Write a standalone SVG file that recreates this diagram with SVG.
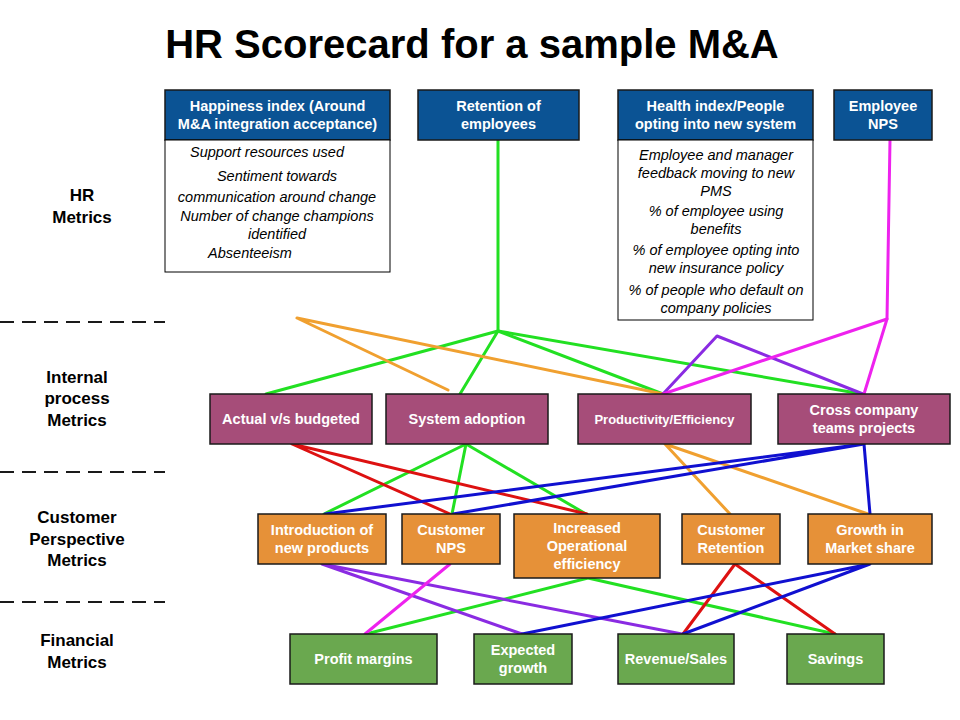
<svg xmlns="http://www.w3.org/2000/svg" width="960" height="720" viewBox="0 0 960 720">
<style>
.t{font-family:"Liberation Sans",Arial,sans-serif;font-weight:bold;fill:#fff;text-anchor:middle}
.s14{font-size:14.5px}
.s13{font-size:13px}
.side{font-family:"Liberation Sans",Arial,sans-serif;font-weight:bold;font-size:17px;fill:#000;text-anchor:middle}
.note{font-family:"Liberation Sans",Arial,sans-serif;font-style:italic;font-size:14.5px;fill:#000;text-anchor:middle}
.hr{fill:#0b5394;stroke:#1a1a1a;stroke-width:1.5}
.ip{fill:#a64d79;stroke:#1a1a1a;stroke-width:1.5}
.cp{fill:#e69138;stroke:#1a1a1a;stroke-width:1.5}
.fn{fill:#6aa84f;stroke:#1a1a1a;stroke-width:1.5}
.nb{fill:#fff;stroke:#000;stroke-width:1}
.dash{stroke:#1a1a1a;stroke-width:2;stroke-dasharray:14 8}
.c{fill:none;stroke-width:3;stroke-linejoin:round;stroke-linecap:round}
.g{stroke:#22e022}.o{stroke:#f0a030}.p{stroke:#8a2be2}.m{stroke:#ee22ee}.r{stroke:#dd1111}.b{stroke:#1010d0}
</style>
<rect width="960" height="720" fill="#fff"/>
<text x="472" y="58" font-family="Liberation Sans,Arial,sans-serif" font-weight="bold" font-size="40" text-anchor="middle" fill="#000">HR Scorecard for a sample M&amp;A</text>

<g id="section-dividers">
<line class="dash" x1="0" y1="322" x2="165" y2="322"/>
<line class="dash" x1="0" y1="472" x2="165" y2="472"/>
<line class="dash" x1="0" y1="602" x2="165" y2="602"/>
</g>
<g id="section-labels">
<text class="side" x="82" y="201">HR</text>
<text class="side" x="82" y="223">Metrics</text>
<text class="side" x="77" y="383">Internal</text>
<text class="side" x="77" y="404">process</text>
<text class="side" x="77" y="426">Metrics</text>
<text class="side" x="77" y="523">Customer</text>
<text class="side" x="77" y="545">Perspective</text>
<text class="side" x="77" y="566">Metrics</text>
<text class="side" x="77" y="646">Financial</text>
<text class="side" x="77" y="668">Metrics</text>
</g>

<g id="connectors">
<line class="c g" x1="498" y1="140" x2="498" y2="331"/>
<polyline class="c g" points="266,394 498,331 460,394"/>
<line class="c g" x1="498" y1="331" x2="663" y2="394"/>
<line class="c g" x1="498" y1="331" x2="862" y2="394"/>
<polyline class="c g" points="324,514 466,444 452,514"/>
<line class="c g" x1="466" y1="444" x2="586" y2="514"/>
<polyline class="c g" points="366,634 588,578 835,634"/>

<polyline class="c o" points="448,390 297,318 663,394"/>
<polyline class="c o" points="730,514 665,444 868,514"/>

<polyline class="c p" points="663,394 717,336 863,394"/>
<polyline class="c p" points="522,634 322,564 682,634"/>

<line class="c m" x1="890" y1="140" x2="887" y2="319"/>
<polyline class="c m" points="663,394 887,319 864,394"/>
<line class="c m" x1="450" y1="564" x2="365" y2="634"/>

<polyline class="c r" points="450,514 292,444 587,514"/>
<polyline class="c r" points="683,634 735,564 835,634"/>

<polyline class="c b" points="325,514 864,444 453,514"/>
<line class="c b" x1="864" y1="444" x2="870" y2="514"/>
<polyline class="c b" points="522,634 870,564 683,634"/>
</g>

<g id="happiness-index">
<rect class="hr" x="165" y="90" width="225" height="50"/>
<text class="t s14" x="277.5" y="111">Happiness index (Around</text>
<text class="t s14" x="277.5" y="129">M&amp;A integration acceptance)</text>
<rect class="nb" x="165" y="140" width="225" height="132"/>
<text class="note" x="267" y="157">Support resources used</text>
<text class="note" x="277" y="181">Sentiment towards</text>
<text class="note" x="277" y="202">communication around change</text>
<text class="note" x="277" y="221">Number of change champions</text>
<text class="note" x="277" y="239">identified</text>
<text class="note" x="250" y="258">Absenteeism</text>
</g>
<g id="retention">
<rect class="hr" x="418" y="90" width="161" height="50"/>
<text class="t s14" x="498.5" y="111">Retention of</text>
<text class="t s14" x="498.5" y="129">employees</text>
</g>
<g id="health-index">
<rect class="hr" x="618" y="90" width="195" height="50"/>
<text class="t s14" x="715.5" y="111">Health index/People</text>
<text class="t s14" x="715.5" y="129">opting into new system</text>
<rect class="nb" x="618" y="140" width="195" height="180"/>
<text class="note" x="716" y="160">Employee and manager</text>
<text class="note" x="716" y="178">feedback moving to new</text>
<text class="note" x="716" y="196">PMS</text>
<text class="note" x="716" y="216">% of employee using</text>
<text class="note" x="716" y="234">benefits</text>
<text class="note" x="716" y="255">% of employee opting into</text>
<text class="note" x="716" y="273">new insurance policy</text>
<text class="note" x="716" y="295">% of people who default on</text>
<text class="note" x="716" y="313">company policies</text>
</g>
<g id="employee-nps">
<rect class="hr" x="834" y="90" width="98" height="50"/>
<text class="t s14" x="883" y="111">Employee</text>
<text class="t s14" x="883" y="129">NPS</text>
</g>

<g id="actual-vs-budgeted">
<rect class="ip" x="210" y="394" width="162" height="50"/>
<text class="t s14" x="291" y="424">Actual v/s budgeted</text>
</g>
<g id="system-adoption">
<rect class="ip" x="386" y="394" width="162" height="50"/>
<text class="t s14" x="467" y="424">System adoption</text>
</g>
<g id="productivity">
<rect class="ip" x="578" y="394" width="173" height="50"/>
<text class="t s13" x="664.5" y="424">Productivity/Efficiency</text>
</g>
<g id="cross-company">
<rect class="ip" x="778" y="394" width="172" height="50"/>
<text class="t s14" x="864" y="415">Cross company</text>
<text class="t s14" x="864" y="433">teams projects</text>
</g>

<g id="new-products">
<rect class="cp" x="258" y="514" width="128" height="50"/>
<text class="t s14" x="322" y="535">Introduction of</text>
<text class="t s14" x="322" y="553">new products</text>
</g>
<g id="customer-nps">
<rect class="cp" x="402" y="514" width="98" height="50"/>
<text class="t s14" x="451" y="535">Customer</text>
<text class="t s14" x="451" y="553">NPS</text>
</g>
<g id="operational-efficiency">
<rect class="cp" x="514" y="514" width="146" height="64"/>
<text class="t s14" x="587" y="533">Increased</text>
<text class="t s14" x="587" y="551">Operational</text>
<text class="t s14" x="587" y="569">efficiency</text>
</g>
<g id="customer-retention">
<rect class="cp" x="682" y="514" width="98" height="50"/>
<text class="t s14" x="731" y="535">Customer</text>
<text class="t s14" x="731" y="553">Retention</text>
</g>
<g id="market-share">
<rect class="cp" x="808" y="514" width="124" height="50"/>
<text class="t s14" x="870" y="535">Growth in</text>
<text class="t s14" x="870" y="553">Market share</text>
</g>

<g id="profit-margins">
<rect class="fn" x="290" y="634" width="147" height="50"/>
<text class="t s14" x="363.5" y="664">Profit margins</text>
</g>
<g id="expected-growth">
<rect class="fn" x="474" y="634" width="98" height="50"/>
<text class="t s14" x="523" y="655">Expected</text>
<text class="t s14" x="523" y="673">growth</text>
</g>
<g id="revenue-sales">
<rect class="fn" x="618" y="634" width="116" height="50"/>
<text class="t s14" x="676" y="664">Revenue/Sales</text>
</g>
<g id="savings">
<rect class="fn" x="787" y="634" width="97" height="50"/>
<text class="t s14" x="835.5" y="664">Savings</text>
</g>
</svg>
